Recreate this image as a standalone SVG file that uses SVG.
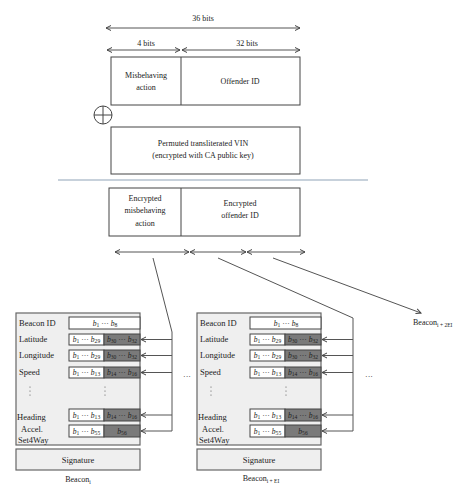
<svg xmlns="http://www.w3.org/2000/svg" width="474" height="502" viewBox="0 0 474 502">
<style>
text{font-family:"Liberation Serif","Times New Roman",serif;fill:#222;}
.t8{font-size:8px;}
.lb{font-size:8.5px;}
.f{font-size:7.6px;}
.s{font-size:5.6px;}
.box{fill:#fff;stroke:#444;stroke-width:1;}
.blk{fill:#efefef;stroke:#666;stroke-width:1.2;}
.dk{fill:#7a7a7a;stroke:#444;stroke-width:1;}
.ln{stroke:#555;stroke-width:1;fill:none;}
.dot{fill:#555;}
</style>
<defs>
<marker id="ah" viewBox="-7 -4 8 8" markerWidth="8" markerHeight="8" refX="0" refY="0" orient="auto-start-reverse" markerUnits="userSpaceOnUse">
<path d="M-5,-2.5 L0,0 L-5,2.5" fill="none" stroke="#444" stroke-width="1"/>
</marker>
<g id="vdots">
<circle class="dot" cx="0" cy="0" r="0.6"/><circle class="dot" cx="0" cy="4" r="0.6"/><circle class="dot" cx="0" cy="8" r="0.6"/>
</g>
</defs>

<g id="dims">
<text class="t8" x="203" y="21" text-anchor="middle">36 bits</text>
<text class="t8" x="146" y="46" text-anchor="middle">4 bits</text>
<text class="t8" x="247" y="46" text-anchor="middle">32 bits</text>
</g>

<g id="connectors">
<line class="ln" x1="106" y1="28" x2="300" y2="28" marker-start="url(#ah)" marker-end="url(#ah)"/>
<line class="ln" x1="107" y1="50" x2="180" y2="50" marker-start="url(#ah)" marker-end="url(#ah)"/>
<line class="ln" x1="182" y1="50" x2="300" y2="50" marker-start="url(#ah)" marker-end="url(#ah)"/>
<line x1="58" y1="180" x2="368" y2="180" stroke="#8fa3b8" stroke-width="1.2"/>
<line class="ln" x1="115" y1="252" x2="189" y2="252" marker-start="url(#ah)" marker-end="url(#ah)"/>
<line class="ln" x1="190" y1="252" x2="246" y2="252" marker-start="url(#ah)" marker-end="url(#ah)"/>
<line class="ln" x1="247" y1="252" x2="305" y2="252" marker-start="url(#ah)" marker-end="url(#ah)"/>
<polyline class="ln" points="153,258 172,332 172,431"/>
<line class="ln" x1="172" y1="339.5" x2="141" y2="339.5" marker-end="url(#ah)"/>
<line class="ln" x1="172" y1="355.5" x2="141" y2="355.5" marker-end="url(#ah)"/>
<line class="ln" x1="172" y1="372.5" x2="141" y2="372.5" marker-end="url(#ah)"/>
<line class="ln" x1="172" y1="415" x2="141" y2="415" marker-end="url(#ah)"/>
<line class="ln" x1="172" y1="431" x2="141" y2="431" marker-end="url(#ah)"/>
<polyline class="ln" points="218,258 353,318 353,431"/>
<line class="ln" x1="353" y1="339.5" x2="322" y2="339.5" marker-end="url(#ah)"/>
<line class="ln" x1="353" y1="355.5" x2="322" y2="355.5" marker-end="url(#ah)"/>
<line class="ln" x1="353" y1="372.5" x2="322" y2="372.5" marker-end="url(#ah)"/>
<line class="ln" x1="353" y1="415" x2="322" y2="415" marker-end="url(#ah)"/>
<line class="ln" x1="353" y1="431" x2="322" y2="431" marker-end="url(#ah)"/>
<line class="ln" x1="273" y1="258" x2="421" y2="313" marker-end="url(#ah)"/>
</g>

<g id="field">
<rect class="box" x="111" y="57" width="189" height="48"/>
<line x1="181" y1="57" x2="181" y2="105" stroke="#444"/>
<text class="t8" x="146" y="78" text-anchor="middle">Misbehaving</text>
<text class="t8" x="146" y="90" text-anchor="middle">action</text>
<text class="t8" x="240" y="84" text-anchor="middle">Offender ID</text>
</g>

<g id="xor">
<circle cx="103" cy="115" r="9" fill="#fff" stroke="#444" stroke-width="1"/>
<line x1="94" y1="115" x2="112" y2="115" stroke="#444"/>
<line x1="103" y1="106" x2="103" y2="124" stroke="#444"/>
</g>

<g id="vin">
<rect class="box" x="111" y="127" width="189" height="47"/>
<text class="t8" x="203" y="146" text-anchor="middle">Permuted transliterated VIN</text>
<text class="t8" x="203" y="158" text-anchor="middle">(encrypted with CA public key)</text>
</g>

<g id="encrypted">
<rect class="box" x="109" y="188" width="191" height="48"/>
<line x1="181" y1="188" x2="181" y2="236" stroke="#444"/>
<text class="t8" x="145" y="201" text-anchor="middle">Encrypted</text>
<text class="t8" x="145" y="213" text-anchor="middle">misbehaving</text>
<text class="t8" x="145" y="226" text-anchor="middle">action</text>
<text class="t8" x="240" y="206" text-anchor="middle">Encrypted</text>
<text class="t8" x="240" y="218" text-anchor="middle">offender ID</text>
</g>

<g id="beacon-i">
<rect class="blk" x="16" y="313" width="124" height="132"/>
<text class="lb" x="19" y="326">Beacon ID</text>
<rect class="box" x="69" y="317" width="71" height="12"/>
<text class="f" x="105" y="325.5" text-anchor="middle"><tspan font-style="italic">b</tspan><tspan class="s" dy="1.5">1</tspan><tspan dy="-1.5"> ··· </tspan><tspan font-style="italic">b</tspan><tspan class="s" dy="1.5">8</tspan></text>
<text class="lb" x="19" y="342">Latitude</text>
<rect class="box" x="69" y="334" width="35" height="11"/><rect class="dk" x="104" y="334" width="36" height="11"/>
<text class="f" x="86.5" y="341.5" text-anchor="middle"><tspan font-style="italic">b</tspan><tspan class="s" dy="1.5">1</tspan><tspan dy="-1.5"> ··· </tspan><tspan font-style="italic">b</tspan><tspan class="s" dy="1.5">29</tspan></text>
<text class="f" x="122" y="341.5" text-anchor="middle"><tspan font-style="italic">b</tspan><tspan class="s" dy="1.5">30</tspan><tspan dy="-1.5"> ··· </tspan><tspan font-style="italic">b</tspan><tspan class="s" dy="1.5">32</tspan></text>
<text class="lb" x="19" y="358">Longitude</text>
<rect class="box" x="69" y="350" width="35" height="11"/><rect class="dk" x="104" y="350" width="36" height="11"/>
<text class="f" x="86.5" y="357.5" text-anchor="middle"><tspan font-style="italic">b</tspan><tspan class="s" dy="1.5">1</tspan><tspan dy="-1.5"> ··· </tspan><tspan font-style="italic">b</tspan><tspan class="s" dy="1.5">29</tspan></text>
<text class="f" x="122" y="357.5" text-anchor="middle"><tspan font-style="italic">b</tspan><tspan class="s" dy="1.5">30</tspan><tspan dy="-1.5"> ··· </tspan><tspan font-style="italic">b</tspan><tspan class="s" dy="1.5">32</tspan></text>
<text class="lb" x="19" y="375">Speed</text>
<rect class="box" x="69" y="367" width="35" height="11"/><rect class="dk" x="104" y="367" width="36" height="11"/>
<text class="f" x="86.5" y="374.5" text-anchor="middle"><tspan font-style="italic">b</tspan><tspan class="s" dy="1.5">1</tspan><tspan dy="-1.5"> ··· </tspan><tspan font-style="italic">b</tspan><tspan class="s" dy="1.5">13</tspan></text>
<text class="f" x="122" y="374.5" text-anchor="middle"><tspan font-style="italic">b</tspan><tspan class="s" dy="1.5">14</tspan><tspan dy="-1.5"> ··· </tspan><tspan font-style="italic">b</tspan><tspan class="s" dy="1.5">16</tspan></text>
<use href="#vdots" x="30" y="387"/>
<use href="#vdots" x="105" y="387"/>
<text class="lb" x="17" y="420">Heading</text>
<rect class="box" x="69" y="409" width="35" height="12"/><rect class="dk" x="104" y="409" width="36" height="12"/>
<text class="f" x="86.5" y="417.5" text-anchor="middle"><tspan font-style="italic">b</tspan><tspan class="s" dy="1.5">1</tspan><tspan dy="-1.5"> ··· </tspan><tspan font-style="italic">b</tspan><tspan class="s" dy="1.5">13</tspan></text>
<text class="f" x="122" y="417.5" text-anchor="middle"><tspan font-style="italic">b</tspan><tspan class="s" dy="1.5">14</tspan><tspan dy="-1.5"> ··· </tspan><tspan font-style="italic">b</tspan><tspan class="s" dy="1.5">16</tspan></text>
<text class="lb" x="21" y="432">Accel.</text>
<text class="lb" x="18" y="443">Set4Way</text>
<rect class="box" x="69" y="425" width="35" height="12"/><rect class="dk" x="104" y="425" width="36" height="12"/>
<text class="f" x="86.5" y="433.5" text-anchor="middle"><tspan font-style="italic">b</tspan><tspan class="s" dy="1.5">1</tspan><tspan dy="-1.5"> ··· </tspan><tspan font-style="italic">b</tspan><tspan class="s" dy="1.5">55</tspan></text>
<text class="f" x="122" y="433.5" text-anchor="middle"><tspan font-style="italic">b</tspan><tspan class="s" dy="1.5">56</tspan></text>
<rect class="blk" x="16" y="449" width="124" height="21"/>
<text class="lb" x="78" y="463" text-anchor="middle">Signature</text>
<text class="t8" x="78" y="482" text-anchor="middle">Beacon<tspan font-size="5.5" dy="2">i</tspan></text>
</g>

<g id="beacon-i-ei" transform="translate(181,0)">
<rect class="blk" x="16" y="313" width="124" height="132"/>
<text class="lb" x="19" y="326">Beacon ID</text>
<rect class="box" x="69" y="317" width="71" height="12"/>
<text class="f" x="105" y="325.5" text-anchor="middle"><tspan font-style="italic">b</tspan><tspan class="s" dy="1.5">1</tspan><tspan dy="-1.5"> ··· </tspan><tspan font-style="italic">b</tspan><tspan class="s" dy="1.5">8</tspan></text>
<text class="lb" x="19" y="342">Latitude</text>
<rect class="box" x="69" y="334" width="35" height="11"/><rect class="dk" x="104" y="334" width="36" height="11"/>
<text class="f" x="86.5" y="341.5" text-anchor="middle"><tspan font-style="italic">b</tspan><tspan class="s" dy="1.5">1</tspan><tspan dy="-1.5"> ··· </tspan><tspan font-style="italic">b</tspan><tspan class="s" dy="1.5">29</tspan></text>
<text class="f" x="122" y="341.5" text-anchor="middle"><tspan font-style="italic">b</tspan><tspan class="s" dy="1.5">30</tspan><tspan dy="-1.5"> ··· </tspan><tspan font-style="italic">b</tspan><tspan class="s" dy="1.5">32</tspan></text>
<text class="lb" x="19" y="358">Longitude</text>
<rect class="box" x="69" y="350" width="35" height="11"/><rect class="dk" x="104" y="350" width="36" height="11"/>
<text class="f" x="86.5" y="357.5" text-anchor="middle"><tspan font-style="italic">b</tspan><tspan class="s" dy="1.5">1</tspan><tspan dy="-1.5"> ··· </tspan><tspan font-style="italic">b</tspan><tspan class="s" dy="1.5">29</tspan></text>
<text class="f" x="122" y="357.5" text-anchor="middle"><tspan font-style="italic">b</tspan><tspan class="s" dy="1.5">30</tspan><tspan dy="-1.5"> ··· </tspan><tspan font-style="italic">b</tspan><tspan class="s" dy="1.5">32</tspan></text>
<text class="lb" x="19" y="375">Speed</text>
<rect class="box" x="69" y="367" width="35" height="11"/><rect class="dk" x="104" y="367" width="36" height="11"/>
<text class="f" x="86.5" y="374.5" text-anchor="middle"><tspan font-style="italic">b</tspan><tspan class="s" dy="1.5">1</tspan><tspan dy="-1.5"> ··· </tspan><tspan font-style="italic">b</tspan><tspan class="s" dy="1.5">13</tspan></text>
<text class="f" x="122" y="374.5" text-anchor="middle"><tspan font-style="italic">b</tspan><tspan class="s" dy="1.5">14</tspan><tspan dy="-1.5"> ··· </tspan><tspan font-style="italic">b</tspan><tspan class="s" dy="1.5">16</tspan></text>
<use href="#vdots" x="30" y="387"/>
<use href="#vdots" x="105" y="387"/>
<text class="lb" x="17" y="420">Heading</text>
<rect class="box" x="69" y="409" width="35" height="12"/><rect class="dk" x="104" y="409" width="36" height="12"/>
<text class="f" x="86.5" y="417.5" text-anchor="middle"><tspan font-style="italic">b</tspan><tspan class="s" dy="1.5">1</tspan><tspan dy="-1.5"> ··· </tspan><tspan font-style="italic">b</tspan><tspan class="s" dy="1.5">13</tspan></text>
<text class="f" x="122" y="417.5" text-anchor="middle"><tspan font-style="italic">b</tspan><tspan class="s" dy="1.5">14</tspan><tspan dy="-1.5"> ··· </tspan><tspan font-style="italic">b</tspan><tspan class="s" dy="1.5">16</tspan></text>
<text class="lb" x="21" y="432">Accel.</text>
<text class="lb" x="18" y="443">Set4Way</text>
<rect class="box" x="69" y="425" width="35" height="12"/><rect class="dk" x="104" y="425" width="36" height="12"/>
<text class="f" x="86.5" y="433.5" text-anchor="middle"><tspan font-style="italic">b</tspan><tspan class="s" dy="1.5">1</tspan><tspan dy="-1.5"> ··· </tspan><tspan font-style="italic">b</tspan><tspan class="s" dy="1.5">55</tspan></text>
<text class="f" x="122" y="433.5" text-anchor="middle"><tspan font-style="italic">b</tspan><tspan class="s" dy="1.5">56</tspan></text>
<rect class="blk" x="16" y="449" width="124" height="21"/>
<text class="lb" x="78" y="463" text-anchor="middle">Signature</text>
<text class="t8" x="80" y="481" text-anchor="middle">Beacon<tspan font-size="5.5" dy="2">i + EI</tspan></text>
</g>

<g id="beacon-i-2ei">
<text class="t8" x="413" y="325">Beacon<tspan font-size="5.5" dy="2">i + 2EI</tspan></text>
</g>

<g id="ellipses">
<text class="t8" x="187" y="379" text-anchor="middle">···</text>
<text class="t8" x="369" y="379" text-anchor="middle">···</text>
</g>
</svg>
